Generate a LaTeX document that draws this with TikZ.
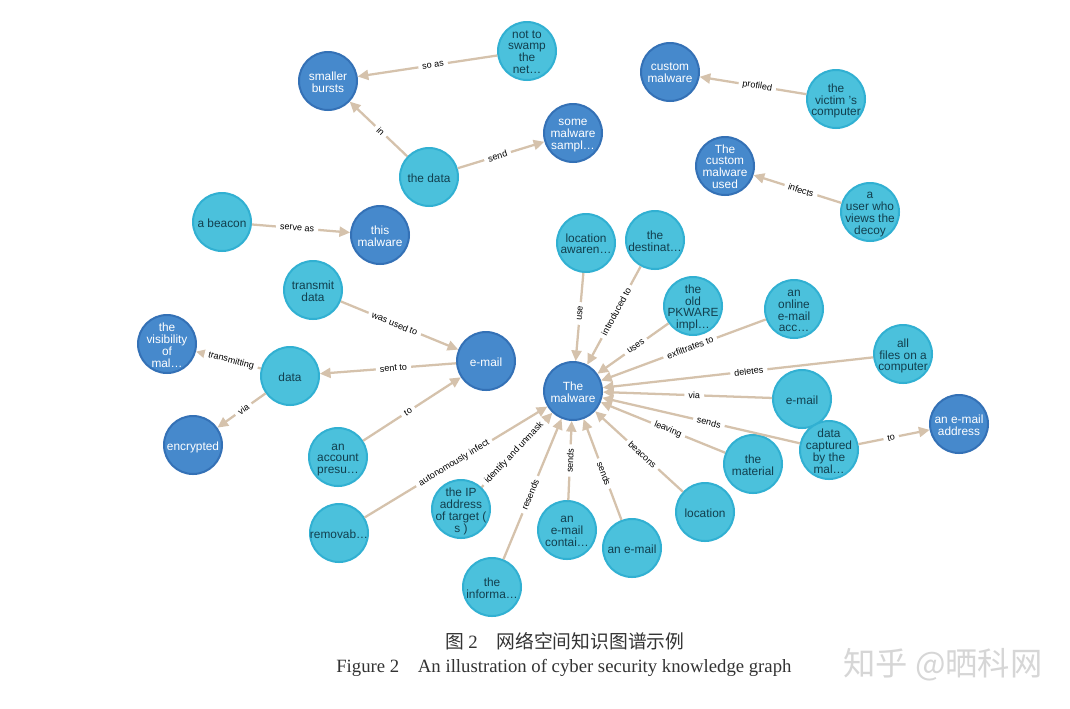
\documentclass[tikz,border=0pt]{standalone}
\usepackage{fontspec}
\setmainfont{Liberation Sans}
\newfontfamily\serifcap{Liberation Serif}
\newfontfamily\cjk{Noto Sans CJK SC}
\usetikzlibrary{arrows.meta}
\definecolor{lightfill}{HTML}{4BC1DC}
\definecolor{lightline}{HTML}{31B0D2}
\definecolor{lighttext}{HTML}{123F4E}
\definecolor{darkfill}{HTML}{4689CC}
\definecolor{darkline}{HTML}{3471B6}
\definecolor{edgecol}{HTML}{D5C2AC}
\definecolor{captext}{HTML}{333333}
\definecolor{wmark}{HTML}{D6D6D6}
\newcommand{\ctext}[1]{\raisebox{-8.4pt}{\makebox[0pt]{\smash{\begin{tabular}[c]{@{}c@{}}#1\end{tabular}}}}}
\tikzset{
  x=0.75pt,y=-0.75pt,
  ent/.style={circle,inner sep=0pt,minimum size=43.5pt,line width=1.5pt,font=\fontsize{8.9}{8.5}\selectfont},
  lt/.style={ent,fill=lightfill,draw=lightline,text=lighttext},
  dk/.style={ent,fill=darkfill,draw=darkline,text=white},
  rel/.style={draw=edgecol,line width=1.7pt,-{Triangle[length=8pt,width=7.5pt]}},
  lab/.style={fill=white,inner xsep=3pt,inner ysep=1pt,sloped,pos=.46,text=black,font=\fontsize{6.8}{7}\selectfont},
  captxt/.style={inner sep=0pt,text=captext},
}
\begin{document}
\begin{tikzpicture}
\useasboundingbox (0,0) rectangle (1070,708);
\fill[white] (0,0) rectangle (1070,708);
% entities
\node[dk] (smaller) at (328,81) {\ctext{smaller\\bursts}};
\node[lt] (swamp) at (527,51) {\ctext{not to\\swamp\\the\\net…}};
\node[dk] (sample) at (573,133) {\ctext{some\\malware\\sampl…}};
\node[lt] (thedata) at (429,177) {\ctext{the data}};
\node[lt] (beacon) at (222,222) {\ctext{a beacon}};
\node[dk] (thismal) at (380,235) {\ctext{this\\malware}};
\node[dk] (custom) at (670,72) {\ctext{custom\\malware}};
\node[lt] (victim) at (836,99) {\ctext{the\\victim 's\\computer}};
\node[dk] (customused) at (725,166) {\ctext{The\\custom\\malware\\used}};
\node[lt] (user) at (870,212) {\ctext{a\\user who\\views the\\decoy}};
\node[lt] (aware) at (586,243) {\ctext{location\\awaren…}};
\node[lt] (dest) at (655,240) {\ctext{the\\destinat…}};
\node[lt] (pkware) at (693,306) {\ctext{the\\old\\PKWARE\\impl…}};
\node[lt] (online) at (794,309) {\ctext{an\\online\\e-mail\\acc…}};
\node[lt] (files) at (903,354) {\ctext{all\\files on a\\computer}};
\node[lt] (emailr) at (802,399) {\ctext{e-mail}};
\node[dk] (malware) at (573,391) {\ctext{The\\malware}};
\node[lt] (captured) at (829,450) {\ctext{data\\captured\\by the\\mal…}};
\node[dk] (address) at (959,424) {\ctext{an e-mail\\address}};
\node[lt] (material) at (753,464) {\ctext{the\\material}};
\node[lt] (location) at (705,512) {\ctext{location}};
\node[lt] (transmit) at (313,290) {\ctext{transmit\\data}};
\node[dk] (email) at (486,361) {\ctext{e-mail}};
\node[dk] (visibility) at (167,344) {\ctext{the\\visibility\\of\\mal…}};
\node[lt] (data) at (290,376) {\ctext{data}};
\node[dk] (encrypted) at (193,445) {\ctext{encrypted}};
\node[lt] (account) at (338,457) {\ctext{an\\account\\presu…}};
\node[lt] (remov) at (339,533) {\ctext{removab…}};
\node[lt] (ip) at (461,509) {\ctext{the IP\\address\\of target (\\s )}};
\node[lt] (informa) at (492,587) {\ctext{the\\informa…}};
\node[lt] (contain) at (567,530) {\ctext{an\\e-mail\\contai…}};
\node[lt] (anemail) at (632,548) {\ctext{an e-mail}};
% relations
\draw[rel] (swamp) -- node[lab] {so as} (smaller);
\draw[rel] (thedata) -- node[lab] {in} (smaller);
\draw[rel] (thedata) -- node[lab] {send} (sample);
\draw[rel] (beacon) -- node[lab] {serve as} (thismal);
\draw[rel] (victim) -- node[lab] {profiled} (custom);
\draw[rel] (user) -- node[lab] {infects} (customused);
\draw[rel] (transmit) -- node[lab] {was used to} (email);
\draw[rel] (data) -- node[lab] {transmitting} (visibility);
\draw[rel] (data) -- node[lab] {via} (encrypted);
\draw[rel] (email) -- node[lab] {sent to} (data);
\draw[rel] (account) -- node[lab] {to} (email);
\draw[rel] (aware) -- node[lab] {use} (malware);
\draw[rel] (dest) -- node[lab] {introduced to} (malware);
\draw[rel] (pkware) -- node[lab] {uses} (malware);
\draw[rel] (online) -- node[lab] {exfiltrates to} (malware);
\draw[rel] (files) -- node[lab] {deletes} (malware);
\draw[rel] (emailr) -- node[lab] {via} (malware);
\draw[rel] (captured) -- node[lab] {sends} (malware);
\draw[rel] (captured) -- node[lab] {to} (address);
\draw[rel] (material) -- node[lab] {leaving} (malware);
\draw[rel] (location) -- node[lab] {beacons} (malware);
\draw[rel] (anemail) -- node[lab] {sends} (malware);
\draw[rel] (contain) -- node[lab,pos=.5] {sends} (malware);
\draw[rel] (informa) -- node[lab] {resends} (malware);
\draw[rel] (ip) -- node[lab,pos=.46] {identify and unmask} (malware);
\draw[rel] (remov) -- node[lab,pos=.49] {autonomously infect} (malware);
% caption
\node[captxt,anchor=base west] (capzh) at (445,648) {\fontsize{14.1}{14}\selectfont\cjk 图 {\serifcap 2}\hspace{1em}网络空间知识图谱示例};
\node[captxt,anchor=base west] (capen) at (336,672) {\fontsize{14.05}{14}\selectfont\serifcap Figure 2\hspace{1em}An illustration of cyber security knowledge graph};
\node[inner sep=0pt,anchor=base west,text=wmark] (mark) at (843,675) {\fontsize{24.2}{25}\selectfont\cjk 知乎 @晒科网};
\end{tikzpicture}
\end{document}
